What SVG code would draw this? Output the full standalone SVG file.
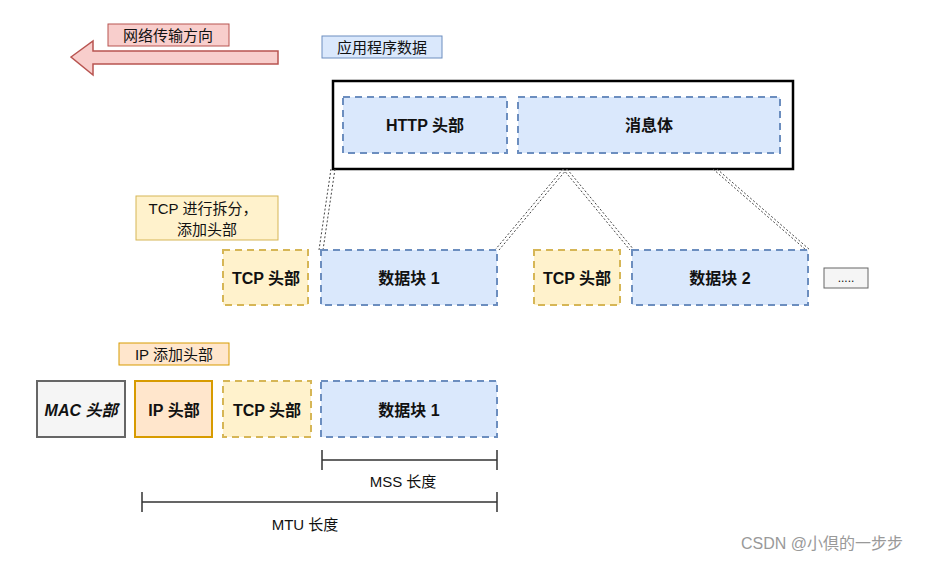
<svg xmlns="http://www.w3.org/2000/svg" width="934" height="562" viewBox="0 0 934 562">
<style>
text{font-family:"Liberation Sans","Noto Sans CJK SC",sans-serif;font-size:15px;text-anchor:middle;fill:#111}
.b{font-weight:bold;font-size:16px}
.blue{fill:#dae8fc;stroke:#6c8ebf;stroke-width:2;stroke-dasharray:7 5}
.yel{fill:#fff2cc;stroke:#d6b656;stroke-width:2;stroke-dasharray:7 5}
.dl{stroke:#444;stroke-width:1;stroke-dasharray:2 2;fill:none}
</style>
<rect width="934" height="562" fill="#fff"/>
<g id="arrow">
<polygon points="71,57 93,41 93,51 278,51 278,64 93,64 93,75" fill="#f8cecc" stroke="#b85450" stroke-width="1.5"/>
<rect x="108" y="24" width="121" height="22" fill="#f8cecc" stroke="#b85450"/>
<text x="168" y="41">网络传输方向</text>
</g>
<g id="applabel"><rect x="322" y="36" width="120" height="22" fill="#dae8fc" stroke="#6c8ebf"/><text x="382" y="53">应用程序数据</text></g>
<g id="appbox"><rect x="333" y="81" width="460" height="88" fill="#fff" stroke="#000" stroke-width="2.5"/></g>
<g id="http"><rect class="blue" x="343" y="97" width="164" height="56"/><text class="b" x="425" y="131">HTTP 头部</text></g>
<g id="body"><rect class="blue" x="518" y="97" width="262" height="56"/><text class="b" x="649" y="131">消息体</text></g>
<g id="tcplabel"><rect x="136" y="196" width="142" height="44" fill="#fff2cc" stroke="#d6b656"/><text x="203" y="214">TCP 进行拆分，</text><text x="207" y="235">添加头部</text></g>
<g id="connectors">
<path class="dl" d="M331,169 L319,250 M335,169 L323,250"/>
<path class="dl" d="M563,169 L495,250 M567,169 L499,250"/>
<path class="dl" d="M563,169 L630,250 M567,169 L634,250"/>
<path class="dl" d="M713,169 L806,250 M717,169 L810,250"/>
<path d="M322,460 H497 M322,450 V470 M497,450 V470 M142,502 H497 M142,492 V512 M497,492 V512" stroke="#333" stroke-width="1.5" fill="none"/>
</g>
<g id="tcp1"><rect class="yel" x="223" y="250" width="85" height="55"/><text class="b" x="266" y="284">TCP 头部</text></g>
<g id="data1"><rect class="blue" x="321" y="250" width="176" height="55"/><text class="b" x="409" y="284">数据块 1</text></g>
<g id="tcp2"><rect class="yel" x="534" y="250" width="86" height="55"/><text class="b" x="577" y="284">TCP 头部</text></g>
<g id="data2"><rect class="blue" x="632" y="250" width="176" height="55"/><text class="b" x="720" y="284">数据块 2</text></g>
<g id="more"><rect x="824" y="268" width="44" height="20" fill="#f5f5f5" stroke="#666"/><text x="846" y="282" style="font-size:12px">.....</text></g>
<g id="iplabel"><rect x="119" y="343" width="110" height="22" fill="#ffe6cc" stroke="#d79b00"/><text x="174" y="360">IP 添加头部</text></g>
<g id="mac"><rect x="37" y="381" width="88" height="56" fill="#f5f5f5" stroke="#666" stroke-width="2"/><text class="b" x="81" y="416" style="font-style:italic">MAC 头部</text></g>
<g id="ip"><rect x="135" y="381" width="77" height="56" fill="#ffe6cc" stroke="#d79b00" stroke-width="2"/><text class="b" x="174" y="416">IP 头部</text></g>
<g id="tcp3"><rect class="yel" x="223" y="381" width="88" height="56"/><text class="b" x="267" y="416">TCP 头部</text></g>
<g id="data3"><rect class="blue" x="321" y="381" width="176" height="56"/><text class="b" x="409" y="416">数据块 1</text></g>
<g id="labels"><text x="403" y="487">MSS 长度</text><text x="305" y="530">MTU 长度</text></g>
<text x="822" y="549" style="fill:#999;font-size:16px">CSDN @小倶的一步步</text>
</svg>
